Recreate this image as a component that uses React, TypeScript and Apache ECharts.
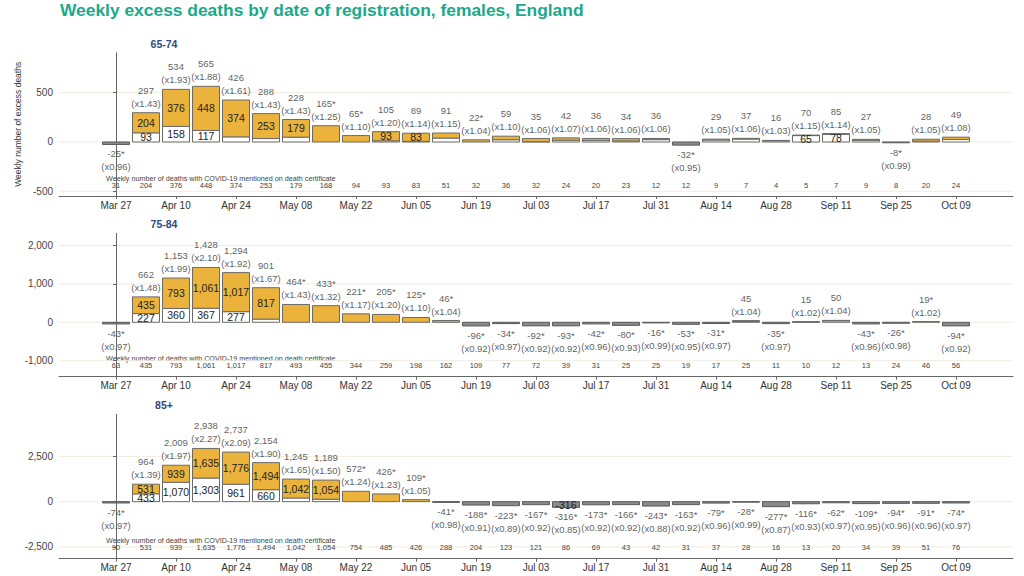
import { useEffect, useRef } from "react";
import * as echarts from "echarts";

const FONT = "'Liberation Sans', Arial, sans-serif";

// Week ending dates (registration weeks)
const weeks = [
  "Mar 27", "Apr 03", "Apr 10", "Apr 17", "Apr 24", "May 01", "May 08", "May 15",
  "May 22", "May 29", "Jun 05", "Jun 12", "Jun 19", "Jun 26", "Jul 03", "Jul 10",
  "Jul 17", "Jul 24", "Jul 31", "Aug 07", "Aug 14", "Aug 21", "Aug 28", "Sep 04",
  "Sep 11", "Sep 18", "Sep 25", "Oct 02", "Oct 09",
];
const weekTicks = [0, 2, 4, 6, 8, 10, 12, 14, 16, 18, 20, 22, 24, 26, 28];

// 65-74
const excess6574 = [-25, 297, 534, 565, 426, 288, 228, 165, 65, 105, 89, 91, 22, 59, 35, 42, 36, 34, 36, -32, 29, 37, 16, 70, 85, 27, -8, 28, 49];
const ratio6574 = [0.96, 1.43, 1.93, 1.88, 1.61, 1.43, 1.43, 1.25, 1.1, 1.2, 1.14, 1.15, 1.04, 1.1, 1.06, 1.07, 1.06, 1.06, 1.06, 0.95, 1.05, 1.06, 1.03, 1.15, 1.14, 1.05, 0.99, 1.05, 1.08];
const covid6574 = [31, 204, 376, 448, 374, 253, 179, 168, 94, 93, 83, 51, 32, 36, 32, 24, 20, 23, 12, 12, 9, 7, 4, 5, 7, 9, 8, 20, 24];
const yTicks6574 = [-500, 0, 500];

// 75-84
const excess7584 = [-43, 662, 1153, 1428, 1294, 901, 464, 433, 221, 205, 125, 46, -96, -34, -92, -93, -42, -80, -16, -53, -31, 45, -35, 15, 50, -43, -26, 19, -94];
const ratio7584 = [0.97, 1.48, 1.99, 2.1, 1.92, 1.67, 1.43, 1.32, 1.17, 1.2, 1.1, 1.04, 0.92, 0.97, 0.92, 0.92, 0.96, 0.93, 0.99, 0.95, 0.97, 1.04, 0.97, 1.02, 1.04, 0.96, 0.98, 1.02, 0.92];
const covid7584 = [63, 435, 793, 1061, 1017, 817, 493, 455, 344, 259, 198, 162, 109, 77, 72, 39, 31, 25, 25, 19, 17, 25, 11, 10, 12, 13, 24, 46, 56];
const yTicks7584 = [-1000, 0, 1000, 2000];

// 85+
const excess85 = [-74, 964, 2009, 2938, 2737, 2154, 1245, 1189, 572, 426, 109, -41, -188, -223, -167, -316, -173, -166, -243, -163, -79, -28, -277, -116, -62, -109, -94, -91, -74];
const ratio85 = [0.97, 1.39, 1.97, 2.27, 2.09, 1.9, 1.65, 1.5, 1.24, 1.23, 1.05, 0.98, 0.91, 0.89, 0.92, 0.85, 0.92, 0.92, 0.88, 0.92, 0.96, 0.99, 0.87, 0.93, 0.97, 0.95, 0.96, 0.96, 0.97];
const covid85 = [90, 531, 939, 1635, 1776, 1494, 1042, 1054, 754, 485, 426, 288, 204, 123, 121, 86, 69, 43, 42, 31, 37, 28, 16, 13, 20, 34, 39, 51, 76];
const yTicks85 = [-2500, 0, 2500];

const panels = [
  { name: "65-74", excess: excess6574, ratio: ratio6574, covid: covid6574, ticks: yTicks6574, min: -548, max: 906, top: 52.7, height: 143.3, labelMin: 60 },
  { name: "75-84", excess: excess7584, ratio: ratio7584, covid: covid7584, ticks: yTicks7584, min: -1417, max: 2318, top: 233.3, height: 143.4, labelMin: 150 },
  { name: "85+", excess: excess85, ratio: ratio85, covid: covid85, ticks: yTicks85, min: -3150, max: 4823, top: 414.3, height: 144.4, labelMin: 300 },
];

const GRID_LEFT = 59;
const GRID_RIGHT = 11;
const BAR_W = 27;
const ORANGE = "#EBB33B";
const GREY = "#8a8a8a";
const BORDER = "#6a6a6a";

const fmt = (v: number) => v.toLocaleString("en-US");

function segText(x: number, y: number, value: number) {
  return {
    type: "text",
    x,
    y,
    silent: true,
    style: {
      text: fmt(value),
      fontFamily: FONT,
      fontSize: 10.5,
      fill: "#222",
      align: "center",
      verticalAlign: "middle",
    },
  };
}

function buildOption() {
  const grid: any[] = [];
  const xAxis: any[] = [];
  const yAxis: any[] = [];
  const series: any[] = [];
  const graphic: any[] = [
    {
      type: "text",
      x: 60,
      y: 10,
      style: {
        text: "Weekly excess deaths by date of registration, females, England",
        fontFamily: FONT,
        fontSize: 17.4,
        fontWeight: "bold",
        fill: "#1aa98a",
        verticalAlign: "middle",
      },
    },
  ];

  panels.forEach((p, k) => {
    const bottomPx = p.top + p.height;
    grid.push({ left: GRID_LEFT, right: GRID_RIGHT, top: p.top, height: p.height });

    xAxis.push({
      type: "value",
      gridIndex: k,
      min: -1.9,
      max: 29.9,
      position: "bottom",
      axisLine: { show: true, onZero: false, lineStyle: { color: "#666", width: 1 } },
      axisTick: { show: true, customValues: weekTicks, length: 3, lineStyle: { color: "#666" } },
      axisLabel: {
        customValues: weekTicks,
        formatter: (v: number) => weeks[Math.round(v)] ?? "",
        fontFamily: FONT,
        fontSize: 10,
        color: "#333",
        margin: 4,
      },
      splitLine: { show: false },
    });

    yAxis.push({
      type: "value",
      gridIndex: k,
      min: p.min,
      max: p.max,
      axisLine: { show: true, lineStyle: { color: "#666", width: 1 } },
      axisTick: { show: true, customValues: p.ticks, length: 3, lineStyle: { color: "#666" } },
      axisLabel: {
        customValues: p.ticks,
        formatter: (v: number) => fmt(v),
        fontFamily: FONT,
        fontSize: 10,
        color: "#444",
        margin: 6,
      },
      splitLine: { show: false },
      ...(k === 0
        ? {
            name: "Weekly number of excess deaths",
            nameLocation: "middle",
            nameRotate: 90,
            nameGap: 33,
            nameTextStyle: { fontFamily: FONT, fontSize: 8.5, color: "#333" },
          }
        : {}),
    });

    // faint horizontal grid lines
    series.push({
      type: "custom",
      xAxisIndex: k,
      yAxisIndex: k,
      silent: true,
      z: 0,
      data: p.ticks.map((v) => [0, v]),
      renderItem: (params: any, api: any) => {
        const cs = params.coordSys;
        const y = api.coord([0, api.value(1)])[1];
        return {
          type: "line",
          shape: { x1: cs.x, y1: y, x2: cs.x + cs.width, y2: y },
          style: { stroke: "#efeddf", lineWidth: 1 },
        };
      },
    });

    // Bars: excess not involving COVID-19 (white, bottom), COVID-19 deaths within
    // the excess (orange, on top), deficit weeks (grey, below zero)
    series.push({
      type: "custom",
      xAxisIndex: k,
      yAxisIndex: k,
      silent: true,
      z: 2,
      encode: { x: 0, y: 1 },
      data: p.excess.map((e, i) => [i, e, p.covid[i]]),
      renderItem: (params: any, api: any) => {
        const i = api.value(0);
        const e = api.value(1);
        const c = api.value(2);
        const [x, y0] = api.coord([i, 0]);
        const left = x - BAR_W / 2;
        const children: any[] = [];
        if (e >= 0) {
          const white = Math.max(e - c, 0);
          const orange = Math.min(c, e);
          const yW = api.coord([i, white])[1];
          const yT = api.coord([i, white + orange])[1];
          if (white > 0) {
            children.push({
              type: "rect",
              shape: { x: left, y: yW, width: BAR_W, height: y0 - yW },
              style: { fill: "#ffffff", stroke: BORDER, lineWidth: 1 },
            });
          }
          if (orange > 0) {
            children.push({
              type: "rect",
              shape: { x: left, y: yT, width: BAR_W, height: yW - yT },
              style: { fill: ORANGE, stroke: BORDER, lineWidth: 1 },
            });
          }
          if (white >= p.labelMin) children.push(segText(x, (y0 + yW) / 2, white));
          if (c < e && orange >= p.labelMin) children.push(segText(x, (yW + yT) / 2, orange));
        } else {
          const yB = api.coord([i, e])[1];
          children.push({
            type: "rect",
            shape: { x: left, y: y0, width: BAR_W, height: yB - y0 },
            style: { fill: GREY, stroke: "#5a5a5a", lineWidth: 1 },
          });
          if (-e >= p.labelMin) children.push(segText(x, (y0 + yB) / 2, e));
        }
        return { type: "group", children };
      },
    });

    // total excess and ratio to expected, above / below each bar
    series.push({
      type: "scatter",
      xAxisIndex: k,
      yAxisIndex: k,
      silent: true,
      symbolSize: 0,
      z: 5,
      data: p.excess.map((v, i) => ({
        value: [i, v],
        label: { position: v >= 0 ? "top" : "bottom" },
      })),
      label: {
        show: true,
        distance: 3,
        fontFamily: FONT,
        fontSize: 9.5,
        lineHeight: 13,
        color: "#333",
        align: "center",
        formatter: (q: any) => {
          const i = q.dataIndex;
          const e = p.excess[i];
          const star = e < p.covid[i] ? "*" : "";
          return `${fmt(e)}${star}\n(x${p.ratio[i].toFixed(2)})`;
        },
      },
    });

    // weekly COVID-19 mentions along the bottom of each panel
    series.push({
      type: "custom",
      xAxisIndex: k,
      yAxisIndex: k,
      silent: true,
      data: p.covid.map((v, i) => [i, v]),
      renderItem: (params: any, api: any) => {
        const cs = params.coordSys;
        const x = api.coord([api.value(0), 0])[0];
        return {
          type: "text",
          x,
          y: cs.y + cs.height - 11,
          style: {
            text: fmt(api.value(1)),
            fontFamily: FONT,
            fontSize: 7.5,
            fill: "#444",
            align: "center",
            verticalAlign: "middle",
          },
        };
      },
    });

    graphic.push({
      type: "text",
      x: 164,
      y: p.top - 9,
      style: {
        text: p.name,
        fontFamily: FONT,
        fontSize: 10.5,
        fontWeight: "bold",
        fill: "#2f4a80",
        align: "center",
        verticalAlign: "middle",
      },
    });
    graphic.push({
      type: "text",
      x: 106,
      y: bottomPx - 18,
      style: {
        text: "Weekly number of deaths with COVID-19 mentioned on death certificate",
        fontFamily: FONT,
        fontSize: 7.2,
        fill: "#444",
        verticalAlign: "middle",
      },
    });
  });

  return {
    animation: false,
    backgroundColor: "#ffffff",
    grid,
    xAxis,
    yAxis,
    series,
    graphic,
  };
}

export default function App() {
  const ref = useRef<HTMLDivElement>(null);
  useEffect(() => {
    if (!ref.current) return;
    const chart = echarts.init(ref.current, undefined, { renderer: "svg" });
    chart.setOption(buildOption() as any);
    return () => chart.dispose();
  }, []);
  return (
    <div
      ref={ref}
      style={{ position: "absolute", left: 0, top: 0, width: 1024, height: 576, background: "#fff" }}
    />
  );
}
